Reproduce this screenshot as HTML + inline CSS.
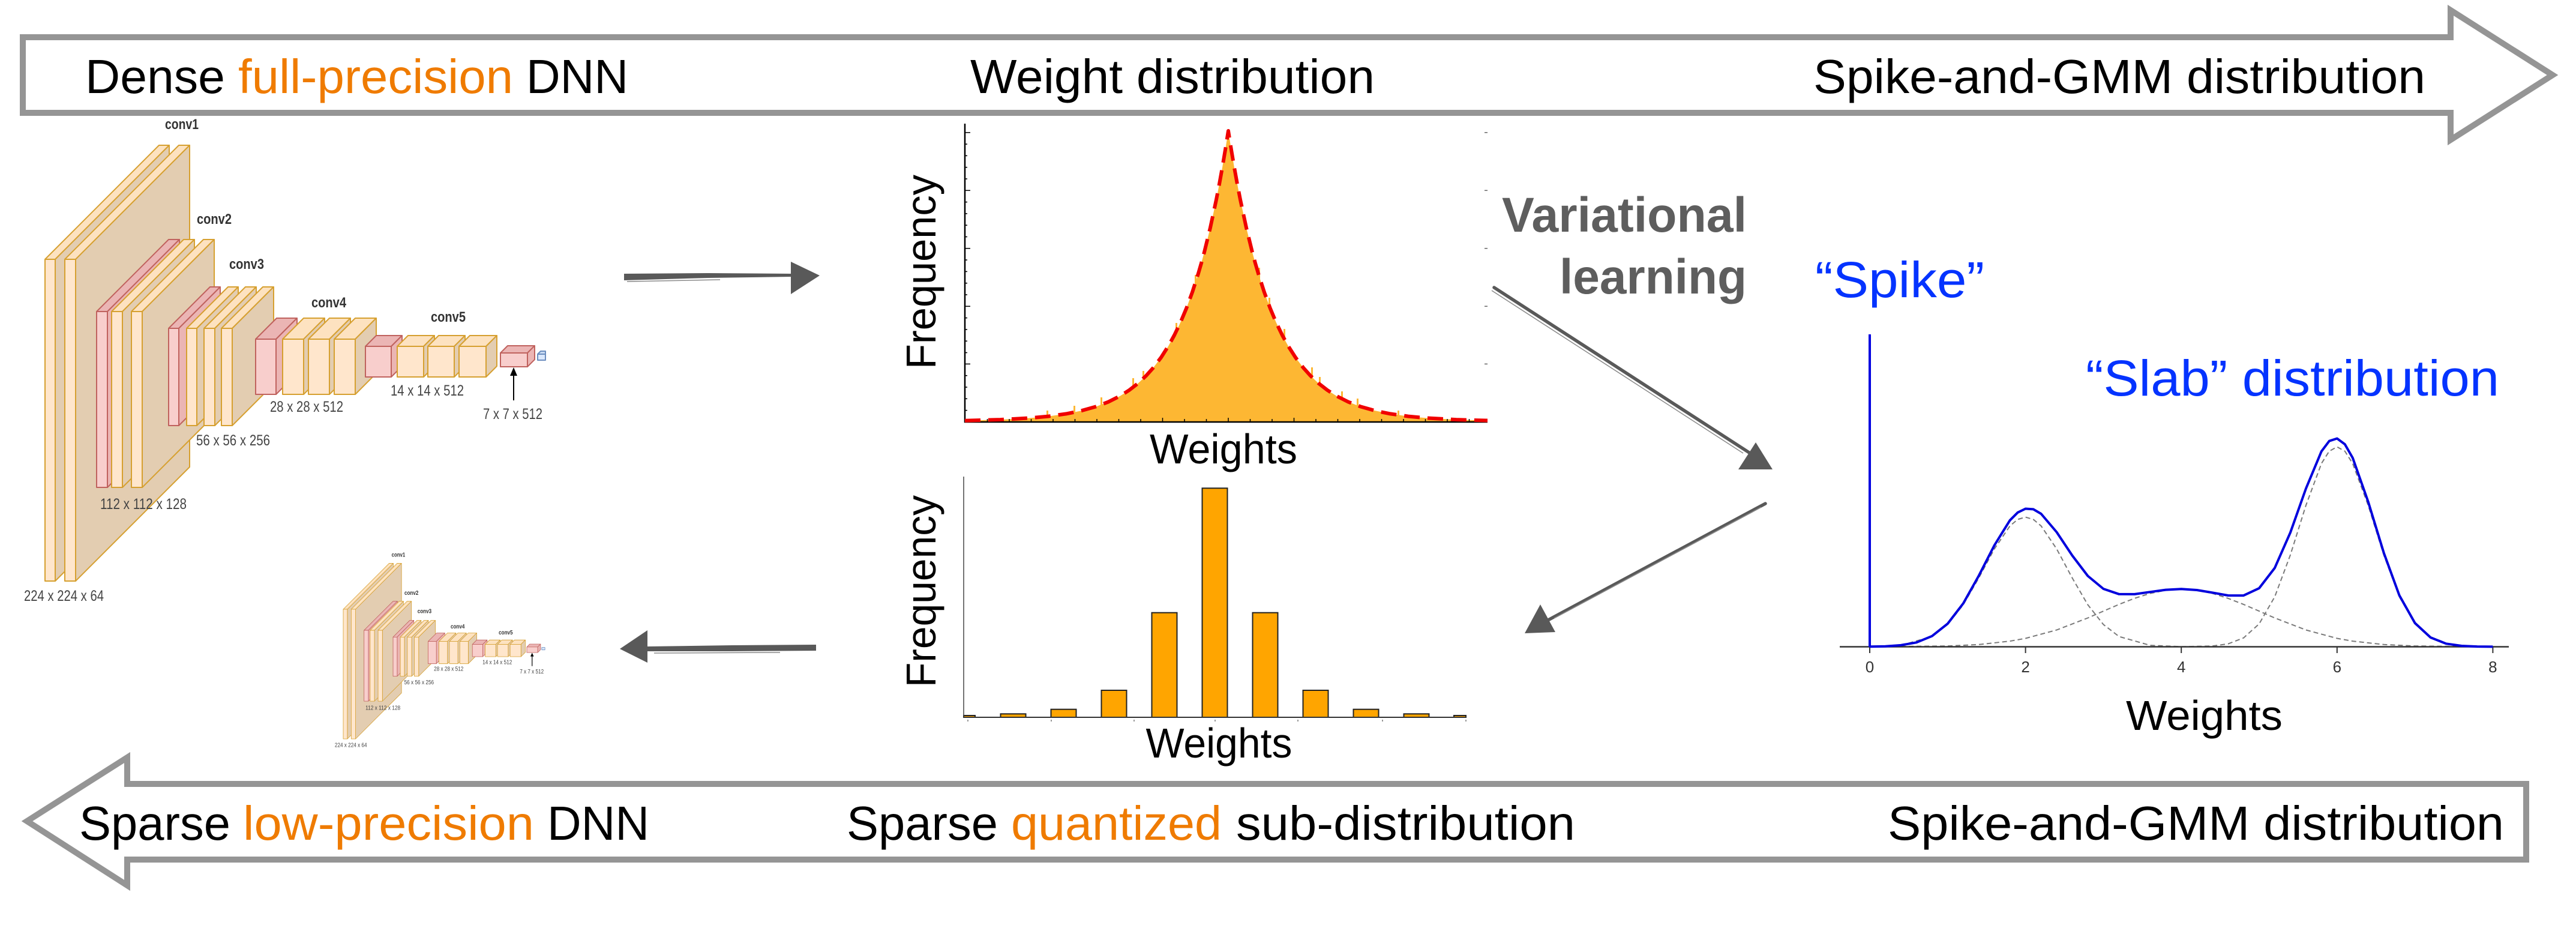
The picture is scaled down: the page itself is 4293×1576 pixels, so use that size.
<!DOCTYPE html>
<html>
<head>
<meta charset="utf-8">
<style>
html,body{margin:0;padding:0;background:#fff;}
body{width:4293px;height:1576px;overflow:hidden;}
svg{display:block;}
text{font-family:"Liberation Sans",Arial,sans-serif;}
</style>
</head>
<body>
<svg width="4293" height="1576" viewBox="0 0 4293 1576" xmlns="http://www.w3.org/2000/svg">
<rect width="4293" height="1576" fill="#fff"/>

<!-- ===== Big outline arrows ===== -->
<polygon points="38,62 4084,62 4084,17 4254,125 4084,233 4084,188 38,188" fill="#fff" stroke="#959595" stroke-width="10" stroke-linejoin="miter"/>
<polygon points="4210,1306 212,1306 212,1262 45,1368 212,1475 212,1432 4210,1432" fill="#fff" stroke="#959595" stroke-width="10" stroke-linejoin="miter"/>

<!-- top band text -->
<text x="142" y="155" font-size="80" fill="#000" textLength="233" lengthAdjust="spacingAndGlyphs">Dense</text>
<text x="397" y="155" font-size="80" fill="#EF7B00" textLength="458" lengthAdjust="spacingAndGlyphs">full-precision</text>
<text x="877" y="155" font-size="80" fill="#000" textLength="170" lengthAdjust="spacingAndGlyphs">DNN</text>
<text x="1617" y="155" font-size="80" fill="#000" textLength="674" lengthAdjust="spacingAndGlyphs">Weight distribution</text>
<text x="3022" y="155" font-size="80" fill="#000" textLength="1020" lengthAdjust="spacingAndGlyphs">Spike-and-GMM distribution</text>

<!-- bottom band text -->
<text x="132" y="1399" font-size="80" fill="#000" textLength="252" lengthAdjust="spacingAndGlyphs">Sparse</text>
<text x="405" y="1399" font-size="80" fill="#EF7B00" textLength="485" lengthAdjust="spacingAndGlyphs">low-precision</text>
<text x="912" y="1399" font-size="80" fill="#000" textLength="170" lengthAdjust="spacingAndGlyphs">DNN</text>
<text x="1411" y="1399" font-size="80" fill="#000" textLength="252" lengthAdjust="spacingAndGlyphs">Sparse</text>
<text x="1685" y="1399" font-size="80" fill="#EF7B00" textLength="351" lengthAdjust="spacingAndGlyphs">quantized</text>
<text x="2060" y="1399" font-size="80" fill="#000" textLength="565" lengthAdjust="spacingAndGlyphs">sub-distribution</text>
<text x="3146" y="1399" font-size="80" fill="#000" textLength="1027" lengthAdjust="spacingAndGlyphs">Spike-and-GMM distribution</text>

<!-- ===== Big DNN ===== -->
<g stroke-width="2" stroke-linejoin="round">
  <!-- block1 -->
  <polygon points="75,432 265,242 282,242 92,432" fill="#FDE2C0" stroke="#D6A030"/>
  <polygon points="92,432 282,242 282,778 92,968" fill="#E3CDB1" stroke="#D6A030"/>
  <rect x="75" y="432" width="17" height="536" fill="#FFE6CC" stroke="#D6A030"/>
  <polygon points="108,432 298,242 316,242 126,432" fill="#FDE2C0" stroke="#D6A030"/>
  <polygon points="126,432 316,242 316,778 126,968" fill="#E3CDB1" stroke="#D6A030"/>
  <rect x="108" y="432" width="18" height="536" fill="#FFE6CC" stroke="#D6A030"/>
  <!-- block2 -->
  <polygon points="161,519 281,399 299,399 179,519" fill="#EBB5B4" stroke="#C0625E"/>
  <polygon points="179,519 299,399 299,692 179,812" fill="#EBB5B4" stroke="#C0625E"/>
  <rect x="161" y="519" width="18" height="293" fill="#F8CECC" stroke="#C0625E"/>
  <polygon points="186,519 306,399 324,399 204,519" fill="#FDE2C0" stroke="#D6A030"/>
  <polygon points="204,519 324,399 324,692 204,812" fill="#E3CDB1" stroke="#D6A030"/>
  <rect x="186" y="519" width="18" height="293" fill="#FFE6CC" stroke="#D6A030"/>
  <polygon points="219,519 339,399 357,399 237,519" fill="#FDE2C0" stroke="#D6A030"/>
  <polygon points="237,519 357,399 357,692 237,812" fill="#E3CDB1" stroke="#D6A030"/>
  <rect x="219" y="519" width="18" height="293" fill="#FFE6CC" stroke="#D6A030"/>
  <!-- block3 -->
  <polygon points="281,547 350,478 367,478 298,547" fill="#EBB5B4" stroke="#C0625E"/>
  <polygon points="298,547 367,478 367,640 298,709" fill="#EBB5B4" stroke="#C0625E"/>
  <rect x="281" y="547" width="17" height="162" fill="#F8CECC" stroke="#C0625E"/>
  <polygon points="311,547 380,478 397,478 328,547" fill="#FDE2C0" stroke="#D6A030"/>
  <polygon points="328,547 397,478 397,640 328,709" fill="#E3CDB1" stroke="#D6A030"/>
  <rect x="311" y="547" width="17" height="162" fill="#FFE6CC" stroke="#D6A030"/>
  <polygon points="340,547 409,478 427,478 358,547" fill="#FDE2C0" stroke="#D6A030"/>
  <polygon points="358,547 427,478 427,640 358,709" fill="#E3CDB1" stroke="#D6A030"/>
  <rect x="340" y="547" width="18" height="162" fill="#FFE6CC" stroke="#D6A030"/>
  <polygon points="369,547 438,478 456,478 387,547" fill="#FDE2C0" stroke="#D6A030"/>
  <polygon points="387,547 456,478 456,640 387,709" fill="#E3CDB1" stroke="#D6A030"/>
  <rect x="369" y="547" width="18" height="162" fill="#FFE6CC" stroke="#D6A030"/>
  <!-- block4 -->
  <polygon points="426,565 461,530 495,530 460,565" fill="#EBB5B4" stroke="#C0625E"/>
  <polygon points="460,565 495,530 495,622 460,657" fill="#EBB5B4" stroke="#C0625E"/>
  <rect x="426" y="565" width="34" height="92" fill="#F8CECC" stroke="#C0625E"/>
  <polygon points="471,565 506,530 541,530 506,565" fill="#FDE2C0" stroke="#D6A030"/>
  <polygon points="506,565 541,530 541,622 506,657" fill="#E3CDB1" stroke="#D6A030"/>
  <rect x="471" y="565" width="35" height="92" fill="#FFE6CC" stroke="#D6A030"/>
  <polygon points="514,565 549,530 584,530 549,565" fill="#FDE2C0" stroke="#D6A030"/>
  <polygon points="549,565 584,530 584,622 549,657" fill="#E3CDB1" stroke="#D6A030"/>
  <rect x="514" y="565" width="35" height="92" fill="#FFE6CC" stroke="#D6A030"/>
  <polygon points="557,565 592,530 627,530 592,565" fill="#FDE2C0" stroke="#D6A030"/>
  <polygon points="592,565 627,530 627,622 592,657" fill="#E3CDB1" stroke="#D6A030"/>
  <rect x="557" y="565" width="35" height="92" fill="#FFE6CC" stroke="#D6A030"/>
  <!-- block5 -->
  <polygon points="609,577 627,559 670,559 652,577" fill="#EBB5B4" stroke="#C0625E"/>
  <polygon points="652,577 670,559 670,610 652,628" fill="#EBB5B4" stroke="#C0625E"/>
  <rect x="609" y="577" width="43" height="51" fill="#F8CECC" stroke="#C0625E"/>
  <polygon points="662,577 680,559 724,559 706,577" fill="#FDE2C0" stroke="#D6A030"/>
  <polygon points="706,577 724,559 724,610 706,628" fill="#E3CDB1" stroke="#D6A030"/>
  <rect x="662" y="577" width="44" height="51" fill="#FFE6CC" stroke="#D6A030"/>
  <polygon points="713,577 731,559 775,559 757,577" fill="#FDE2C0" stroke="#D6A030"/>
  <polygon points="757,577 775,559 775,610 757,628" fill="#E3CDB1" stroke="#D6A030"/>
  <rect x="713" y="577" width="44" height="51" fill="#FFE6CC" stroke="#D6A030"/>
  <polygon points="765,577 783,559 828,559 810,577" fill="#FDE2C0" stroke="#D6A030"/>
  <polygon points="810,577 828,559 828,610 810,628" fill="#E3CDB1" stroke="#D6A030"/>
  <rect x="765" y="577" width="45" height="51" fill="#FFE6CC" stroke="#D6A030"/>
  <!-- block6 -->
  <polygon points="834,588 846,576 891,576 879,588" fill="#EBB5B4" stroke="#C0625E"/>
  <polygon points="879,588 891,576 891,599 879,611" fill="#EBB5B4" stroke="#C0625E"/>
  <rect x="834" y="588" width="45" height="23" fill="#F8CECC" stroke="#C0625E"/>
  <polygon points="896,590 901,585 909,585 909,590" fill="#C9DBF3" stroke="#6C8EBF"/>
  <rect x="896" y="590" width="13" height="10" fill="#DAE8FC" stroke="#6C8EBF"/>
</g>
<line x1="856" y1="667" x2="856" y2="622" stroke="#000" stroke-width="2"/>
<polygon points="856,612 850,626 862,626" fill="#000"/>
<g font-size="24" font-weight="bold" fill="#333" text-anchor="middle">
  <text x="303" y="215" textLength="56" lengthAdjust="spacingAndGlyphs">conv1</text>
  <text x="357" y="373" textLength="58" lengthAdjust="spacingAndGlyphs">conv2</text>
  <text x="411" y="448" textLength="58" lengthAdjust="spacingAndGlyphs">conv3</text>
  <text x="548" y="512" textLength="58" lengthAdjust="spacingAndGlyphs">conv4</text>
  <text x="747" y="536" textLength="58" lengthAdjust="spacingAndGlyphs">conv5</text>
</g>
<g font-size="25" fill="#444">
  <text x="40" y="1001" textLength="133" lengthAdjust="spacingAndGlyphs">224 x 224 x 64</text>
  <text x="167" y="848" textLength="144" lengthAdjust="spacingAndGlyphs">112 x 112 x 128</text>
  <text x="327" y="742" textLength="123" lengthAdjust="spacingAndGlyphs">56 x 56 x 256</text>
  <text x="450" y="686" textLength="122" lengthAdjust="spacingAndGlyphs">28 x 28 x 512</text>
  <text x="651" y="659" textLength="122" lengthAdjust="spacingAndGlyphs">14 x 14 x 512</text>
  <text x="805" y="698" textLength="99" lengthAdjust="spacingAndGlyphs">7 x 7 x 512</text>
</g>

<!-- ===== Small DNN (scaled copy) ===== -->
<g transform="translate(541.8,840.9) scale(0.403)">
<g stroke-width="2" stroke-linejoin="round">
  <polygon points="75,432 265,242 282,242 92,432" fill="#FDE2C0" stroke="#D6A030"/>
  <polygon points="92,432 282,242 282,778 92,968" fill="#E3CDB1" stroke="#D6A030"/>
  <rect x="75" y="432" width="17" height="536" fill="#FFE6CC" stroke="#D6A030"/>
  <polygon points="108,432 298,242 316,242 126,432" fill="#FDE2C0" stroke="#D6A030"/>
  <polygon points="126,432 316,242 316,778 126,968" fill="#E3CDB1" stroke="#D6A030"/>
  <rect x="108" y="432" width="18" height="536" fill="#FFE6CC" stroke="#D6A030"/>
  <polygon points="161,519 281,399 299,399 179,519" fill="#EBB5B4" stroke="#C0625E"/>
  <polygon points="179,519 299,399 299,692 179,812" fill="#EBB5B4" stroke="#C0625E"/>
  <rect x="161" y="519" width="18" height="293" fill="#F8CECC" stroke="#C0625E"/>
  <polygon points="186,519 306,399 324,399 204,519" fill="#FDE2C0" stroke="#D6A030"/>
  <polygon points="204,519 324,399 324,692 204,812" fill="#E3CDB1" stroke="#D6A030"/>
  <rect x="186" y="519" width="18" height="293" fill="#FFE6CC" stroke="#D6A030"/>
  <polygon points="219,519 339,399 357,399 237,519" fill="#FDE2C0" stroke="#D6A030"/>
  <polygon points="237,519 357,399 357,692 237,812" fill="#E3CDB1" stroke="#D6A030"/>
  <rect x="219" y="519" width="18" height="293" fill="#FFE6CC" stroke="#D6A030"/>
  <polygon points="281,547 350,478 367,478 298,547" fill="#EBB5B4" stroke="#C0625E"/>
  <polygon points="298,547 367,478 367,640 298,709" fill="#EBB5B4" stroke="#C0625E"/>
  <rect x="281" y="547" width="17" height="162" fill="#F8CECC" stroke="#C0625E"/>
  <polygon points="311,547 380,478 397,478 328,547" fill="#FDE2C0" stroke="#D6A030"/>
  <polygon points="328,547 397,478 397,640 328,709" fill="#E3CDB1" stroke="#D6A030"/>
  <rect x="311" y="547" width="17" height="162" fill="#FFE6CC" stroke="#D6A030"/>
  <polygon points="340,547 409,478 427,478 358,547" fill="#FDE2C0" stroke="#D6A030"/>
  <polygon points="358,547 427,478 427,640 358,709" fill="#E3CDB1" stroke="#D6A030"/>
  <rect x="340" y="547" width="18" height="162" fill="#FFE6CC" stroke="#D6A030"/>
  <polygon points="369,547 438,478 456,478 387,547" fill="#FDE2C0" stroke="#D6A030"/>
  <polygon points="387,547 456,478 456,640 387,709" fill="#E3CDB1" stroke="#D6A030"/>
  <rect x="369" y="547" width="18" height="162" fill="#FFE6CC" stroke="#D6A030"/>
  <polygon points="426,565 461,530 495,530 460,565" fill="#EBB5B4" stroke="#C0625E"/>
  <polygon points="460,565 495,530 495,622 460,657" fill="#EBB5B4" stroke="#C0625E"/>
  <rect x="426" y="565" width="34" height="92" fill="#F8CECC" stroke="#C0625E"/>
  <polygon points="471,565 506,530 541,530 506,565" fill="#FDE2C0" stroke="#D6A030"/>
  <polygon points="506,565 541,530 541,622 506,657" fill="#E3CDB1" stroke="#D6A030"/>
  <rect x="471" y="565" width="35" height="92" fill="#FFE6CC" stroke="#D6A030"/>
  <polygon points="514,565 549,530 584,530 549,565" fill="#FDE2C0" stroke="#D6A030"/>
  <polygon points="549,565 584,530 584,622 549,657" fill="#E3CDB1" stroke="#D6A030"/>
  <rect x="514" y="565" width="35" height="92" fill="#FFE6CC" stroke="#D6A030"/>
  <polygon points="557,565 592,530 627,530 592,565" fill="#FDE2C0" stroke="#D6A030"/>
  <polygon points="592,565 627,530 627,622 592,657" fill="#E3CDB1" stroke="#D6A030"/>
  <rect x="557" y="565" width="35" height="92" fill="#FFE6CC" stroke="#D6A030"/>
  <polygon points="609,577 627,559 670,559 652,577" fill="#EBB5B4" stroke="#C0625E"/>
  <polygon points="652,577 670,559 670,610 652,628" fill="#EBB5B4" stroke="#C0625E"/>
  <rect x="609" y="577" width="43" height="51" fill="#F8CECC" stroke="#C0625E"/>
  <polygon points="662,577 680,559 724,559 706,577" fill="#FDE2C0" stroke="#D6A030"/>
  <polygon points="706,577 724,559 724,610 706,628" fill="#E3CDB1" stroke="#D6A030"/>
  <rect x="662" y="577" width="44" height="51" fill="#FFE6CC" stroke="#D6A030"/>
  <polygon points="713,577 731,559 775,559 757,577" fill="#FDE2C0" stroke="#D6A030"/>
  <polygon points="757,577 775,559 775,610 757,628" fill="#E3CDB1" stroke="#D6A030"/>
  <rect x="713" y="577" width="44" height="51" fill="#FFE6CC" stroke="#D6A030"/>
  <polygon points="765,577 783,559 828,559 810,577" fill="#FDE2C0" stroke="#D6A030"/>
  <polygon points="810,577 828,559 828,610 810,628" fill="#E3CDB1" stroke="#D6A030"/>
  <rect x="765" y="577" width="45" height="51" fill="#FFE6CC" stroke="#D6A030"/>
  <polygon points="834,588 846,576 891,576 879,588" fill="#EBB5B4" stroke="#C0625E"/>
  <polygon points="879,588 891,576 891,599 879,611" fill="#EBB5B4" stroke="#C0625E"/>
  <rect x="834" y="588" width="45" height="23" fill="#F8CECC" stroke="#C0625E"/>
  <rect x="896" y="590" width="13" height="10" fill="#DAE8FC" stroke="#6C8EBF"/>
</g>
<line x1="856" y1="667" x2="856" y2="622" stroke="#000" stroke-width="3"/>
<polygon points="856,612 849,627 863,627" fill="#000"/>
<g font-size="24" font-weight="bold" fill="#333" text-anchor="middle">
  <text x="303" y="215" textLength="56" lengthAdjust="spacingAndGlyphs">conv1</text>
  <text x="357" y="373" textLength="58" lengthAdjust="spacingAndGlyphs">conv2</text>
  <text x="411" y="448" textLength="58" lengthAdjust="spacingAndGlyphs">conv3</text>
  <text x="548" y="512" textLength="58" lengthAdjust="spacingAndGlyphs">conv4</text>
  <text x="747" y="536" textLength="58" lengthAdjust="spacingAndGlyphs">conv5</text>
</g>
<g font-size="25" fill="#444">
  <text x="40" y="1001" textLength="133" lengthAdjust="spacingAndGlyphs">224 x 224 x 64</text>
  <text x="167" y="848" textLength="144" lengthAdjust="spacingAndGlyphs">112 x 112 x 128</text>
  <text x="327" y="742" textLength="123" lengthAdjust="spacingAndGlyphs">56 x 56 x 256</text>
  <text x="450" y="686" textLength="122" lengthAdjust="spacingAndGlyphs">28 x 28 x 512</text>
  <text x="651" y="659" textLength="122" lengthAdjust="spacingAndGlyphs">14 x 14 x 512</text>
  <text x="805" y="698" textLength="99" lengthAdjust="spacingAndGlyphs">7 x 7 x 512</text>
</g>
</g>

<!-- ===== Sketch arrows ===== -->
<g fill="#595959">
  <!-- top right-pointing -->
  <polygon points="1040,456 1180,455 1320,456 1320,461 1180,463 1040,467"/>
  <line x1="1045" y1="469" x2="1200" y2="466" stroke="#8a8a8a" stroke-width="1.5"/>
  <polygon points="1318,436 1366,459 1318,490"/>
  <!-- bottom left-pointing -->
  <polygon points="1079,1077 1220,1075 1360,1074 1360,1084 1220,1085 1079,1085"/>
  <line x1="1090" y1="1088" x2="1300" y2="1087" stroke="#8a8a8a" stroke-width="1.5"/>
  <polygon points="1033,1081 1079,1050 1079,1104"/>
  <!-- diag down-right -->
  <line x1="2490" y1="479" x2="2915" y2="754" stroke="#595959" stroke-width="5.5" stroke-linecap="round"/>
  <line x1="2486" y1="484" x2="2905" y2="755" stroke="#8a8a8a" stroke-width="1.5"/>
  <polygon points="2926,737 2897,782 2954,782"/>
  <!-- diag down-left -->
  <line x1="2942" y1="839" x2="2580" y2="1033" stroke="#595959" stroke-width="5.5" stroke-linecap="round"/>
  <line x1="2935" y1="845" x2="2590" y2="1030" stroke="#8a8a8a" stroke-width="1.5"/>
  <polygon points="2567,1007 2541,1055 2592,1053"/>
</g>

<!-- Variational learning -->
<text x="2911" y="386" font-size="82" font-weight="bold" fill="#5E5E5E" text-anchor="end" textLength="408" lengthAdjust="spacingAndGlyphs">Variational</text>
<text x="2911" y="489" font-size="82" font-weight="bold" fill="#5E5E5E" text-anchor="end" textLength="312" lengthAdjust="spacingAndGlyphs">learning</text>

<!-- ===== Top histogram ===== -->
<polygon fill="#FDB733" points="1608,703 1608,700.7 1617,700.5 1667,699.1 1717,696.4 1747,693.6 1777,689.4 1802,684.3 1827,677.2 1847,669.6 1867,659.5 1882,649.9 1897,638.3 1910,626 1922,612.6 1935,595.5 1947,576.7 1957,558.5 1967,537.8 1977,514.1 1987,486.9 1997,455.7 2002,438.5 2007,420.1 2017,379.3 2027,332.6 2032,306.8 2037,279.2 2042,249.6 2047,218 2052,249.6 2057,279.2 2062,306.8 2067,332.6 2077,379.3 2087,420.1 2092,438.5 2097,455.7 2107,486.9 2117,514.1 2127,537.8 2137,558.5 2147,576.7 2159,595.5 2172,612.6 2184,626 2197,638.3 2212,649.9 2227,659.5 2247,669.6 2267,677.2 2292,684.3 2317,689.4 2347,693.6 2377,696.4 2427,699.1 2477,700.5 2479,700.5 2479,703"/>
<g fill="#FDB733">
  <rect x="1744" y="684" width="3" height="19"/>
  <rect x="1789" y="676" width="3" height="27"/>
  <rect x="1834" y="662" width="3" height="41"/>
  <rect x="1887" y="630" width="3" height="73"/>
  <rect x="1904" y="618" width="3" height="85"/>
  <rect x="1959" y="538" width="3" height="165"/>
  <rect x="1991" y="458" width="3" height="245"/>
  <rect x="2097" y="446" width="3" height="257"/>
  <rect x="2114" y="496" width="3" height="207"/>
  <rect x="2139" y="548" width="3" height="155"/>
  <rect x="2185" y="612" width="3" height="91"/>
  <rect x="2198" y="628" width="3" height="75"/>
  <rect x="2235" y="652" width="3" height="51"/>
  <rect x="2261" y="664" width="3" height="39"/>
  <rect x="2329" y="684" width="3" height="19"/>
</g>
<!-- axes -->
<line x1="1608" y1="206" x2="1608" y2="704" stroke="#000" stroke-width="2.5"/>
<line x1="1607" y1="703" x2="2479" y2="703" stroke="#000" stroke-width="2.5"/>
<g stroke="#000" stroke-width="1.5">
  <line x1="1608" y1="220.8" x2="1617" y2="220.8"/>
  <line x1="1608" y1="317.3" x2="1617" y2="317.3"/>
  <line x1="1608" y1="413.8" x2="1617" y2="413.8"/>
  <line x1="1608" y1="510.3" x2="1617" y2="510.3"/>
  <line x1="1608" y1="606.4" x2="1617" y2="606.4"/>
  <line x1="1608" y1="240.1" x2="1612" y2="240.1"/>
  <line x1="1608" y1="259.4" x2="1612" y2="259.4"/>
  <line x1="1608" y1="278.7" x2="1612" y2="278.7"/>
  <line x1="1608" y1="298" x2="1612" y2="298"/>
  <line x1="1608" y1="336.6" x2="1612" y2="336.6"/>
  <line x1="1608" y1="355.9" x2="1612" y2="355.9"/>
  <line x1="1608" y1="375.2" x2="1612" y2="375.2"/>
  <line x1="1608" y1="394.5" x2="1612" y2="394.5"/>
  <line x1="1608" y1="433.1" x2="1612" y2="433.1"/>
  <line x1="1608" y1="452.4" x2="1612" y2="452.4"/>
  <line x1="1608" y1="471.7" x2="1612" y2="471.7"/>
  <line x1="1608" y1="491" x2="1612" y2="491"/>
  <line x1="1608" y1="529.6" x2="1612" y2="529.6"/>
  <line x1="1608" y1="548.9" x2="1612" y2="548.9"/>
  <line x1="1608" y1="568.2" x2="1612" y2="568.2"/>
  <line x1="1608" y1="587.5" x2="1612" y2="587.5"/>
  <line x1="1608" y1="625.7" x2="1612" y2="625.7"/>
  <line x1="1608" y1="645" x2="1612" y2="645"/>
  <line x1="1608" y1="664.3" x2="1612" y2="664.3"/>
  <line x1="1608" y1="683.6" x2="1612" y2="683.6"/>
</g>
<g stroke="#666" stroke-width="1.5">
  <line x1="2479" y1="220.8" x2="2474" y2="220.8"/>
  <line x1="2479" y1="317.3" x2="2474" y2="317.3"/>
  <line x1="2479" y1="413.8" x2="2474" y2="413.8"/>
  <line x1="2479" y1="510.3" x2="2474" y2="510.3"/>
  <line x1="2479" y1="606.4" x2="2474" y2="606.4"/>
</g>
<g stroke="#000" stroke-width="1.5">
  <line x1="1645.5" y1="703" x2="1645.5" y2="698"/>
  <line x1="1682" y1="703" x2="1682" y2="698"/>
  <line x1="1718.5" y1="703" x2="1718.5" y2="698"/>
  <line x1="1755" y1="703" x2="1755" y2="698"/>
  <line x1="1791.5" y1="703" x2="1791.5" y2="698"/>
  <line x1="1828" y1="703" x2="1828" y2="698"/>
  <line x1="1864.5" y1="703" x2="1864.5" y2="698"/>
  <line x1="1901" y1="703" x2="1901" y2="698"/>
  <line x1="1937.5" y1="703" x2="1937.5" y2="696"/>
  <line x1="1974" y1="703" x2="1974" y2="698"/>
  <line x1="2010.5" y1="703" x2="2010.5" y2="698"/>
  <line x1="2047" y1="703" x2="2047" y2="696"/>
  <line x1="2083.5" y1="703" x2="2083.5" y2="698"/>
  <line x1="2120" y1="703" x2="2120" y2="698"/>
  <line x1="2156.5" y1="703" x2="2156.5" y2="696"/>
  <line x1="2193" y1="703" x2="2193" y2="698"/>
  <line x1="2229.5" y1="703" x2="2229.5" y2="698"/>
  <line x1="2266" y1="703" x2="2266" y2="698"/>
  <line x1="2302.5" y1="703" x2="2302.5" y2="698"/>
  <line x1="2339" y1="703" x2="2339" y2="698"/>
  <line x1="2375.5" y1="703" x2="2375.5" y2="698"/>
  <line x1="2412" y1="703" x2="2412" y2="698"/>
  <line x1="2448.5" y1="703" x2="2448.5" y2="698"/>
</g>
<!-- red dashed fit -->
<polyline fill="none" stroke="#F00000" stroke-width="6" stroke-dasharray="26 13" stroke-linejoin="round" points="1608,700.7 1617,700.5 1667,699.1 1717,696.4 1747,693.6 1777,689.4 1802,684.3 1827,677.2 1847,669.6 1867,659.5 1882,649.9 1897,638.3 1910,626 1922,612.6 1935,595.5 1947,576.7 1957,558.5 1967,537.8 1977,514.1 1987,486.9 1997,455.7 2002,438.5 2007,420.1 2017,379.3 2027,332.6 2032,306.8 2037,279.2 2042,249.6 2047,218 2052,249.6 2057,279.2 2062,306.8 2067,332.6 2077,379.3 2087,420.1 2092,438.5 2097,455.7 2107,486.9 2117,514.1 2127,537.8 2137,558.5 2147,576.7 2159,595.5 2172,612.6 2184,626 2197,638.3 2212,649.9 2227,659.5 2247,669.6 2267,677.2 2292,684.3 2317,689.4 2347,693.6 2377,696.4 2427,699.1 2477,700.5 2479,700.5"/>
<text transform="translate(1559,453) rotate(-90)" font-size="70" fill="#000" text-anchor="middle" textLength="324" lengthAdjust="spacingAndGlyphs">Frequency</text>
<text x="2039" y="772" font-size="70" fill="#000" text-anchor="middle" textLength="246" lengthAdjust="spacingAndGlyphs">Weights</text>

<!-- ===== Bottom histogram ===== -->
<g fill="#FFA500" stroke="#222" stroke-width="2">
  <rect x="1606" y="1192" width="19" height="3"/>
  <rect x="1667.5" y="1189.3" width="42" height="5.7"/>
  <rect x="1751.5" y="1181.7" width="42" height="13.3"/>
  <rect x="1835.5" y="1150" width="42" height="45"/>
  <rect x="1919.5" y="1020.7" width="42" height="174.3"/>
  <rect x="2003.5" y="813.3" width="42" height="381.7"/>
  <rect x="2087.5" y="1020.7" width="42" height="174.3"/>
  <rect x="2171.5" y="1150" width="42" height="45"/>
  <rect x="2255.5" y="1181.7" width="42" height="13.3"/>
  <rect x="2339.5" y="1189.3" width="42" height="5.7"/>
  <rect x="2423" y="1192" width="20" height="3"/>
</g>
<line x1="1606" y1="794" x2="1606" y2="1196" stroke="#444" stroke-width="1.5"/>
<line x1="1605" y1="1195" x2="2443" y2="1195" stroke="#333" stroke-width="2"/>
<g stroke="#555" stroke-width="1.2">
  <line x1="1613" y1="1199" x2="1613" y2="1202"/>
  <line x1="1752" y1="1199" x2="1752" y2="1202"/>
  <line x1="1890" y1="1199" x2="1890" y2="1202"/>
  <line x1="2025" y1="1199" x2="2025" y2="1202"/>
  <line x1="2163" y1="1199" x2="2163" y2="1202"/>
  <line x1="2304" y1="1199" x2="2304" y2="1202"/>
  <line x1="2443" y1="1199" x2="2443" y2="1202"/>
</g>
<text transform="translate(1559,985) rotate(-90)" font-size="70" fill="#000" text-anchor="middle" textLength="320" lengthAdjust="spacingAndGlyphs">Frequency</text>
<text x="2031.5" y="1262" font-size="70" fill="#000" text-anchor="middle" textLength="244" lengthAdjust="spacingAndGlyphs">Weights</text>

<!-- ===== Spike-and-slab chart ===== -->
<text x="3025" y="495" font-size="84" fill="#0433FF" textLength="282" lengthAdjust="spacingAndGlyphs">“Spike”</text>
<text x="3476" y="659" font-size="84" fill="#0433FF" textLength="689" lengthAdjust="spacingAndGlyphs">“Slab” distribution</text>

<!-- dashed components -->
<g fill="none" stroke="#7a7a7a" stroke-width="2" stroke-dasharray="8 5" stroke-linejoin="round">
  <polyline points="3116,1077.3 3167.9,1075.1 3219.8,1060.4 3245.8,1040.4 3271.8,1007.5 3297.7,962.9 3323.7,914.5 3349.6,876.2 3362.6,865.3 3375.6,861.5 3388.6,865.3 3401.6,876.2 3427.5,914.5 3453.5,962.9 3479.4,1007.5 3505.4,1040.4 3531.4,1060.4 3583.3,1075.1 3635.2,1077.3"/>
  <polyline points="3116,1077.5 3245.8,1076.2 3297.7,1073.8 3349.6,1068.1 3375.6,1063.5 3427.5,1049.5 3479.4,1029.5 3505.4,1018.1 3531.4,1006.9 3557.3,996.8 3583.3,988.6 3609.2,983.3 3635.2,981.5 3661.2,983.3 3687.1,988.6 3713.1,996.8 3739,1006.9 3765,1018.1 3791,1029.5 3842.9,1049.5 3894.8,1063.5 3920.8,1068.1 3972.7,1073.8 4024.6,1076.2 4154.4,1077.5"/>
  <polyline points="3635.2,1077.4 3687.1,1076.2 3713.1,1072.7 3739,1062.7 3765,1039.3 3791,994.1 3816.9,924.7 3842.9,842 3868.8,772.1 3881.8,751.6 3894.8,744.5 3907.8,751.6 3920.8,772.1 3946.7,842 3972.7,924.7 3998.6,994.1 4024.6,1039.3 4050.6,1062.7 4076.5,1072.7 4102.5,1076.2 4154.4,1077.4"/>
</g>
<!-- axis -->
<line x1="3066" y1="1077.5" x2="4181" y2="1077.5" stroke="#333" stroke-width="2.5"/>
<g stroke="#333" stroke-width="2">
  <line x1="3116" y1="1077.5" x2="3116" y2="1088"/>
  <line x1="3375.6" y1="1077.5" x2="3375.6" y2="1088"/>
  <line x1="3635.2" y1="1077.5" x2="3635.2" y2="1088"/>
  <line x1="3894.8" y1="1077.5" x2="3894.8" y2="1088"/>
  <line x1="4154.4" y1="1077.5" x2="4154.4" y2="1088"/>
</g>
<g font-size="26" fill="#333" text-anchor="middle">
  <text x="3116" y="1120">0</text>
  <text x="3375.6" y="1120">2</text>
  <text x="3635.2" y="1120">4</text>
  <text x="3894.8" y="1120">6</text>
  <text x="4154.4" y="1120">8</text>
</g>
<!-- spike -->
<line x1="3116" y1="557" x2="3116" y2="1078" stroke="#0000E0" stroke-width="4"/>
<!-- slab mixture -->
<polyline fill="none" stroke="#0000DD" stroke-width="4" stroke-linejoin="round" points="3116,1077.3 3142,1076.7 3167.9,1074.9 3193.9,1070.3 3219.8,1059.7 3245.8,1039.1 3271.8,1005.3 3297.7,959.2 3323.7,908.5 3349.6,866.8 3362.6,853.8 3375.6,847.5 3388.6,848.4 3401.6,856 3427.5,886.5 3453.5,925.5 3479.4,959.5 3505.4,981 3531.4,989.8 3557.3,989.9 3583.3,986.2 3609.2,982.6 3635.2,981.3 3661.2,983 3687.1,987.3 3713.1,992 3739,992.1 3765,979.9 3791,946.1 3816.9,887.3 3842.9,814 3868.8,751.9 3881.8,734.7 3894.8,730.5 3907.8,740.1 3920.8,762.7 3946.7,836 3972.7,921 3998.6,991.9 4024.6,1038 4050.6,1062 4076.5,1072.3 4102.5,1076 4128.4,1077.1 4154.4,1077.4"/>
<text x="3673.5" y="1216" font-size="70" fill="#000" text-anchor="middle" textLength="261" lengthAdjust="spacingAndGlyphs">Weights</text>
</svg>
</body>
</html>
